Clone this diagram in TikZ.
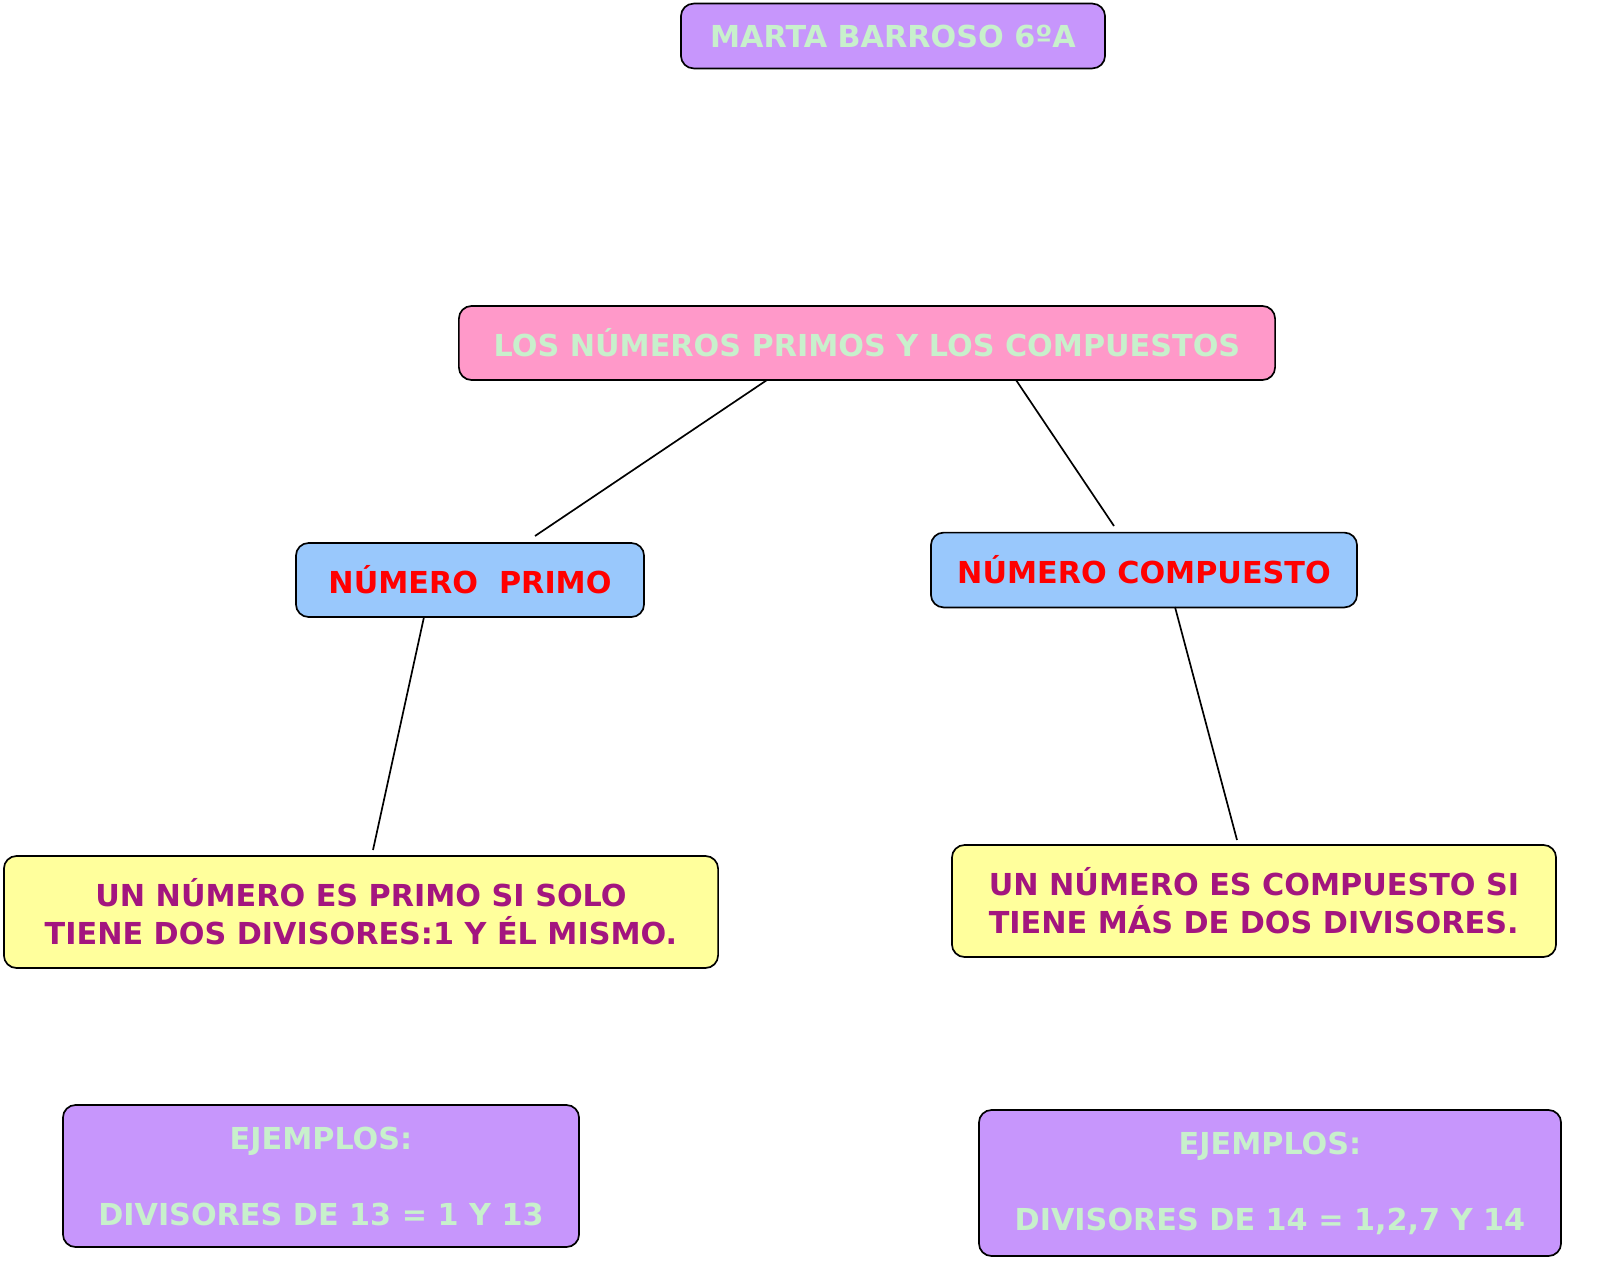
\documentclass[tikz,border=0pt]{standalone}
\usepackage{fontspec}
\setmainfont{DejaVu Sans}
\definecolor{lila}{HTML}{C796FC}
\definecolor{rosa}{HTML}{FF99C9}
\definecolor{celeste}{HTML}{99C8FC}
\definecolor{amarillo}{HTML}{FFFF9C}
\definecolor{menta}{HTML}{C8F0CC}
\definecolor{magenta}{HTML}{A3157F}
\tikzset{
 caja/.style={draw=black, line width=1.2pt, rounded corners=9pt, inner sep=0pt, font=\bfseries\fontsize{21.5}{27}\selectfont},
 enlace/.style={line width=1.2pt}
}
\begin{document}
\begin{tikzpicture}[x=0.025cm, y=-0.025cm]
\useasboundingbox (0,0) rectangle (1600,1288);
\node[caja, fill=lila, text=menta, minimum width=10.6cm, minimum height=1.62cm] (autor) at (893,36) {MARTA BARROSO 6ºA};
\node[caja, fill=rosa, text=menta, minimum width=20.4cm, minimum height=1.85cm] (tema) at (867,343) {LOS NÚMEROS PRIMOS Y LOS COMPUESTOS};
\node[caja, fill=celeste, text=red, minimum width=8.7cm, minimum height=1.85cm] (primo) at (470,580) {NÚMERO~~PRIMO};
\node[caja, fill=celeste, text=red, minimum width=10.65cm, minimum height=1.87cm] (comp) at (1144,570) {NÚMERO COMPUESTO};
\node[caja, fill=amarillo, text=magenta, align=center, minimum width=17.85cm, minimum height=2.8cm] (defprimo) at (361,912) {UN NÚMERO ES PRIMO SI SOLO\\TIENE DOS DIVISORES:1 Y ÉL MISMO.};
\node[caja, fill=amarillo, text=magenta, align=left, minimum width=15.1cm, minimum height=2.8cm] (defcomp) at (1254,901) {UN NÚMERO ES COMPUESTO SI\\TIENE MÁS DE DOS DIVISORES.};
\node[caja, fill=lila, text=menta, align=center, minimum width=12.9cm, minimum height=3.55cm] (ejprimo) at (321,1176) {EJEMPLOS:\\[0.95cm]DIVISORES DE 13 = 1 Y 13};
\node[caja, fill=lila, text=menta, align=center, minimum width=14.55cm, minimum height=3.65cm] (ejcomp) at (1270,1183) {EJEMPLOS:\\[0.95cm]DIVISORES DE 14 = 1,2,7 Y 14};
% extremos libres de los enlaces
\coordinate (a1) at (767,380); \coordinate (a2) at (535,536);
\coordinate (b1) at (1016,380); \coordinate (b2) at (1114,526);
\coordinate (c1) at (424,617); \coordinate (c2) at (373,850);
\coordinate (d1) at (1175,607); \coordinate (d2) at (1237,840);
\draw[enlace] (a1) -- (a2);
\draw[enlace] (b1) -- (b2);
\draw[enlace] (c1) -- (c2);
\draw[enlace] (d1) -- (d2);
\end{tikzpicture}
\end{document}
